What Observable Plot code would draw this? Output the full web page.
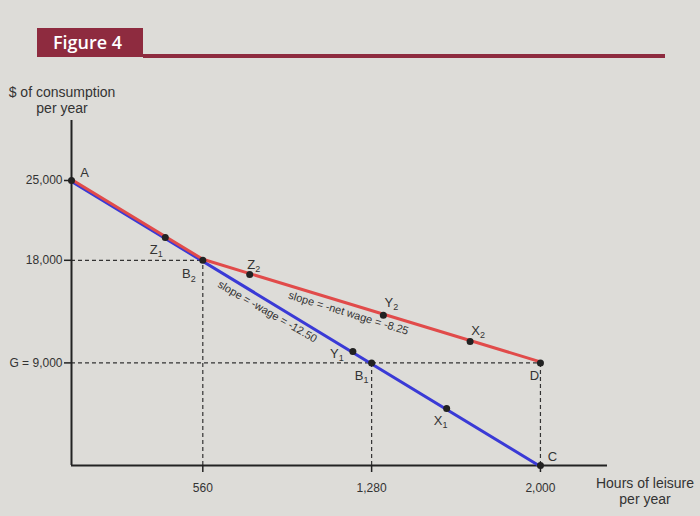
<!DOCTYPE html>
<html><head><meta charset="utf-8">
<script src="https://cdn.jsdelivr.net/npm/d3@7"></script>
<script src="https://cdn.jsdelivr.net/npm/@observablehq/plot@0.6"></script>
<style>
body{margin:0;background:#dddcd8;font-family:"Liberation Sans",Arial,sans-serif;}
#wrap{position:relative;width:700px;height:516px;overflow:hidden;background:#dddcd8;}
#hdr{position:absolute;left:37px;top:28px;width:106px;height:29px;background:#8e2b3f;color:#fff;font:600 18px "Open Sans",sans-serif;line-height:29px;text-indent:16px;}
#hline{position:absolute;left:143px;top:54px;width:522px;height:4px;background:#8e2b3f;}
.ttl{position:absolute;color:#333;font-size:14px;line-height:16px;text-align:center;}
#chart{position:absolute;left:0;top:0;}
</style></head>
<body>
<div id="wrap">
  <div id="chart"></div>
  <div id="hdr">Figure 4</div>
  <div id="hline"></div>
  <div class="ttl" style="left:4px;top:84px;width:116px;">$ of consumption<br>per year</div>
  <div class="ttl" style="left:590px;top:475px;width:110px;">Hours of leisure<br>per year</div>
</div>
<script>
// Budget constraint without tax (blue) and with tax/benefit (red)
const blueHours = [0, 2000];
const blueCons = [25000, 0];
const redHours = [0, 560, 2000];
const redCons = [25000, 18000, 9000];

// Labelled points (letter + subscript)
const pointLetters = ["A", "Z", "B", "Z", "Y", "X", "D", "Y", "B", "X", "C"];
const pointSubs = ["", "1", "2", "2", "2", "2", "", "1", "1", "1", ""];
const pointHours = [0, 400, 560, 760, 1330, 1700, 2000, 1200, 1280, 1600, 2000];
const pointCons = [25000, 20000, 18000, 16750, 13187.5, 10875, 9000, 10000, 9000, 5000, 0];

// Reference (dashed) levels
const dashYLevels = [18000, 9000];
const dashYEnds = [560, 2000];
const dashXLevels = [560, 1280, 2000];
const dashXTops = [18000, 9000, 9000];

// Axis ticks
const yTicks = [25000, 18000, 9000];
const yTickLabels = ["25,000", "18,000", "G = 9,000"];
const xTicks = [560, 1280, 2000];
const xTickLabels = ["560", "1,280", "2,000"];

// Slope annotations
const slopeTexts = ["slope = -wage = -12.50", "slope = -net wage = -8.25"];
const slopeHours = [857, 1190];
const slopeCons = [14287, 14062];

const blue = blueHours.map((h, i) => ({h, c: blueCons[i]}));
const red = redHours.map((h, i) => ({h, c: redCons[i]}));
const pts = pointLetters.map((l, i) => ({l, s: pointSubs[i], key: l + pointSubs[i], h: pointHours[i], c: pointCons[i]}));
const dashH = dashYLevels.map((y, i) => ({y, x2: dashYEnds[i]}));
const dashV = dashXLevels.map((x, i) => ({x, y2: dashXTops[i]}));

const labelOffsets = {
  "A": [13, -8], "Z1": [-9, 12], "B2": [-14, 14], "Z2": [4, -10], "Y2": [8, -12],
  "X2": [8, -11], "D": [-6, 13], "Y1": [-16, 2], "B1": [-10, 13], "X1": [-6, 12], "C": [12, -9]
};
const slopeStyle = [{rotate: 30, dx: -5, dy: 9}, {rotate: 17, dx: -2, dy: 8}];

const yFmt = new Map(yTicks.map((t, i) => [t, yTickLabels[i]]));
const xFmt = new Map(xTicks.map((t, i) => [t, xTickLabels[i]]));

const chart = Plot.plot({
  width: 700,
  height: 516,
  marginLeft: 71,
  marginRight: 93,
  marginTop: 120,
  marginBottom: 51,
  style: {background: "transparent", fontSize: "12px", fontFamily: "Liberation Sans, Arial, sans-serif", color: "#333"},
  x: {domain: [0, 2286]},
  y: {domain: [0, 30263]},
  marks: [
    Plot.ruleY(dashH, {y: "y", x1: 0, x2: "x2", stroke: "#333", strokeWidth: 1.2, strokeDasharray: "4,3"}),
    Plot.ruleX(dashV, {x: "x", y1: 0, y2: "y2", stroke: "#333", strokeWidth: 1.2, strokeDasharray: "4,3"}),
    Plot.ruleX([0], {y1: 0, y2: 30263, stroke: "#222", strokeWidth: 2}),
    Plot.ruleY([0], {x1: 0, x2: 2286, stroke: "#222", strokeWidth: 2}),
    Plot.axisY({ticks: yTicks, tickFormat: d => yFmt.get(d), tickSize: 7, tickPadding: 2, label: null, stroke: "#222", strokeWidth: 1.5}),
    Plot.axisX({ticks: xTicks, tickFormat: d => xFmt.get(d), tickSize: 7, tickPadding: 11, label: null, stroke: "#222", strokeWidth: 1.5}),
    Plot.line(blue, {x: "h", y: "c", stroke: "#3a3ad6", strokeWidth: 3, dy: 1}),
    Plot.line(red, {x: "h", y: "c", stroke: "#e14b4a", strokeWidth: 3, dy: -1}),
    Plot.dot(pts, {x: "h", y: "c", r: 3.5, fill: "#222", stroke: "none"}),
    ...pts.map(p => Plot.text([p], {x: "h", y: "c", text: "key", dx: labelOffsets[p.key][0], dy: labelOffsets[p.key][1], fontSize: 13, fill: "#333", className: "ptlabel"})),
    ...slopeTexts.map((t, i) => Plot.text([{t, h: slopeHours[i], c: slopeCons[i]}], {x: "h", y: "c", text: "t", rotate: slopeStyle[i].rotate, dx: slopeStyle[i].dx, dy: slopeStyle[i].dy, fontSize: 11, fill: "#333"}))
  ]
});
// Render subscripts as real tspans
d3.select(chart).selectAll(".ptlabel text").each(function() {
  const txt = this.textContent;
  const m = txt.match(/^([A-Z])(\d?)$/);
  if (!m || !m[2]) return;
  const sel = d3.select(this);
  sel.text(m[1]);
  sel.append("tspan").attr("font-size", 9).attr("dy", "0.35em").text(m[2]);
});
document.getElementById("chart").appendChild(chart);
</script>
</body></html>
